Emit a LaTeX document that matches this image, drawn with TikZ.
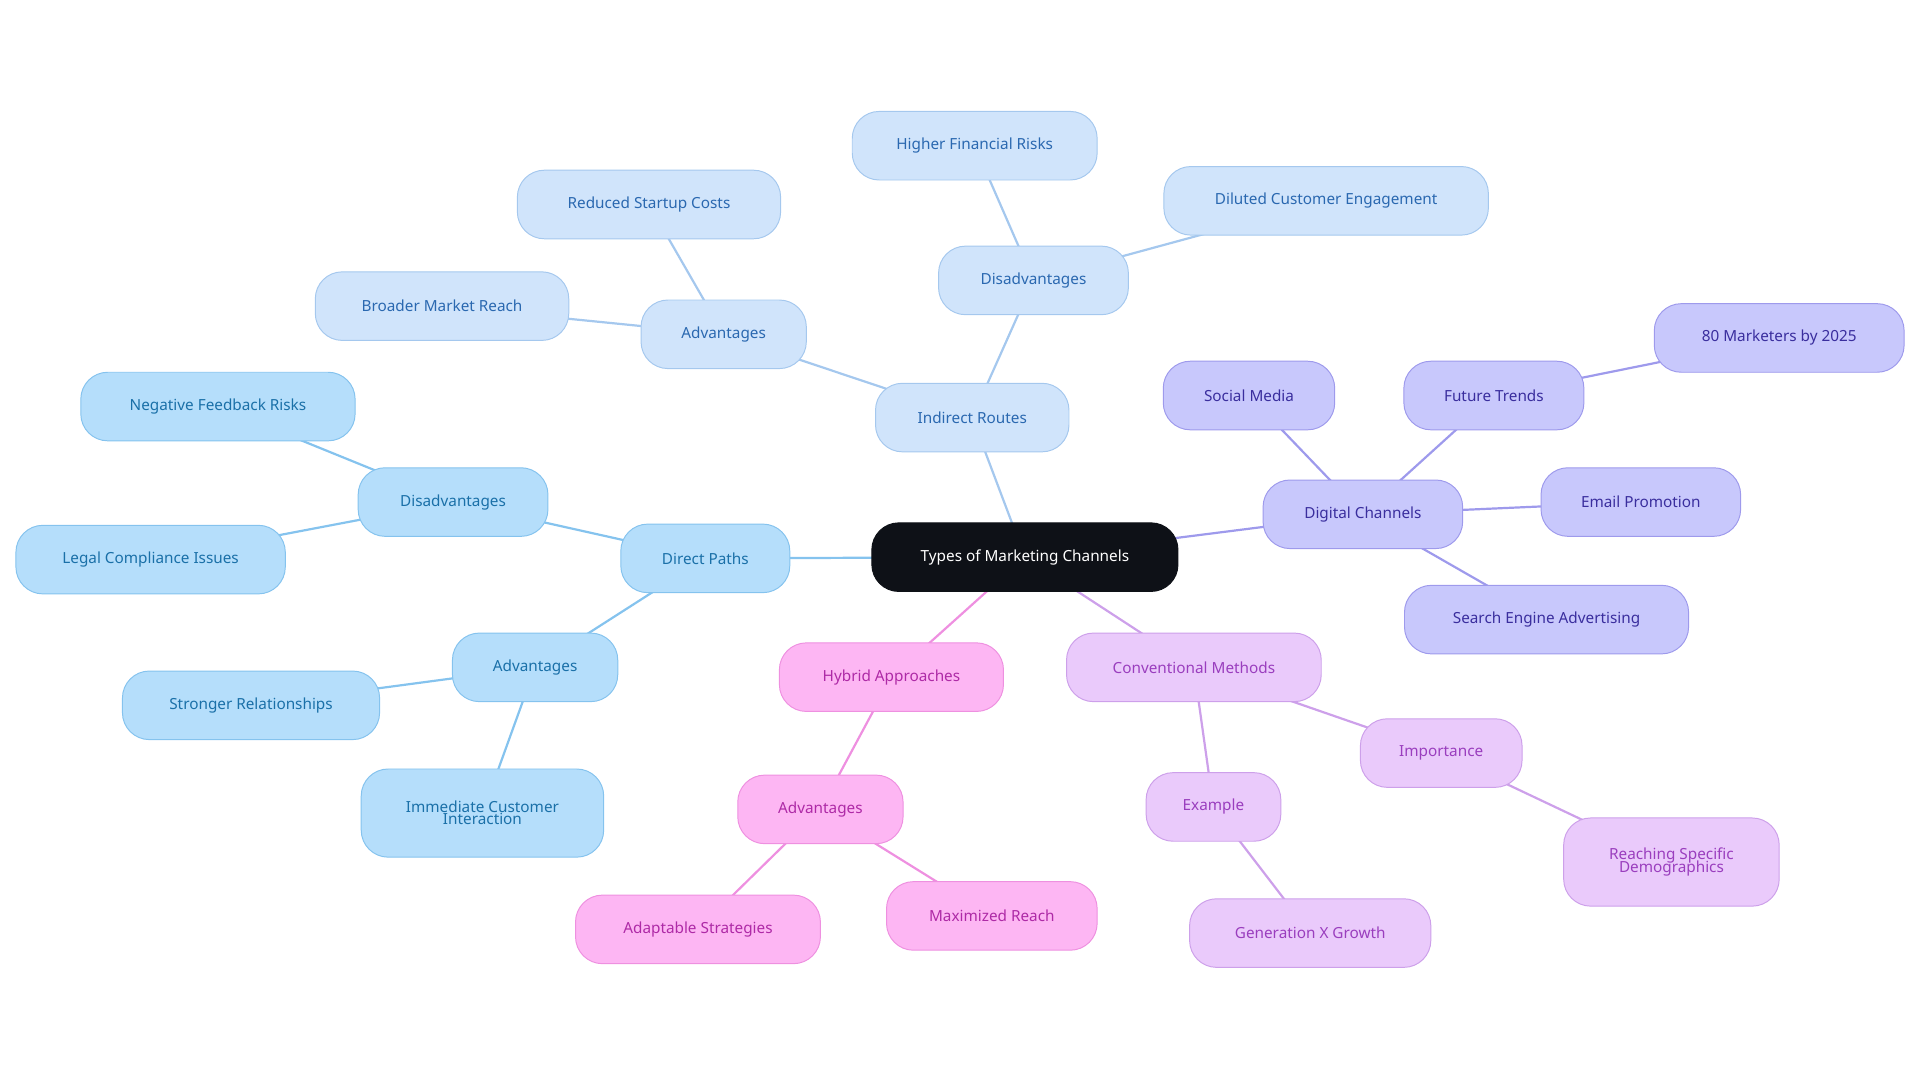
\documentclass[tikz,border=0pt]{standalone}
\usepackage{fontspec}
\setmainfont{Noto Sans}
\usetikzlibrary{backgrounds}
\definecolor{dpF}{HTML}{B5DEFB}\definecolor{dpD}{HTML}{85C3EE}\definecolor{dpT}{HTML}{1A70A8}
\definecolor{irF}{HTML}{D0E4FB}\definecolor{irD}{HTML}{A5C8EE}\definecolor{irT}{HTML}{2A68B0}
\definecolor{dcF}{HTML}{C8C8FC}\definecolor{dcD}{HTML}{9E9AEC}\definecolor{dcT}{HTML}{3A2E9E}
\definecolor{cmF}{HTML}{EACAFB}\definecolor{cmD}{HTML}{CDA0EA}\definecolor{cmT}{HTML}{9A3EBE}
\definecolor{haF}{HTML}{FDB6F3}\definecolor{haD}{HTML}{EE90E0}\definecolor{haT}{HTML}{AE2AA6}
\definecolor{rootF}{HTML}{0E1117}
\tikzset{
 x=1pt,y=-1pt,
 box/.style={rectangle,rounded corners=22pt,minimum height=56pt,line width=0.8pt,align=center,font=\fontsize{12.5}{13}\selectfont,inner xsep=4pt},
 dpbox/.style={box,fill=dpF,draw=dpD,text=dpT},
 irbox/.style={box,fill=irF,draw=irD,text=irT},
 dcbox/.style={box,fill=dcF,draw=dcD,text=dcT},
 cmbox/.style={box,fill=cmF,draw=cmD,text=cmT},
 habox/.style={box,fill=haF,draw=haD,text=haT},
 edge/.style={line width=1.8pt},
}
\begin{document}
\begin{tikzpicture}
\useasboundingbox (0,0) rectangle (1568,884);
\node[box,fill=rootF,draw=rootF,text=white,minimum width=250pt] (root) at (837,455) {Types of Marketing Channels};
\node[dpbox,minimum width=138pt] (dp) at (576,456) {Direct Paths};
\node[dpbox,minimum width=155pt] (dpd) at (370,410) {Disadvantages};
\node[dpbox,minimum width=224pt] (nfr) at (178,332) {Negative Feedback Risks};
\node[dpbox,minimum width=220pt] (lci) at (123,457) {Legal Compliance Issues};
\node[dpbox,minimum width=135pt] (dpa) at (437,545) {Advantages};
\node[dpbox,minimum width=210pt] (sr) at (205,576) {Stronger Relationships};
\node[dpbox,minimum width=198pt,minimum height=72pt] (ici) at (394,664) {Immediate Customer\\[-3pt]Interaction};
\node[irbox,minimum width=158pt] (ir) at (794,341) {Indirect Routes};
\node[irbox,minimum width=135pt] (ira) at (591,273) {Advantages};
\node[irbox,minimum width=215pt] (rsc) at (530,167) {Reduced Startup Costs};
\node[irbox,minimum width=207pt] (bmr) at (361,250) {Broader Market Reach};
\node[irbox,minimum width=155pt] (ird) at (844,229) {Disadvantages};
\node[irbox,minimum width=200pt] (hfr) at (796,119) {Higher Financial Risks};
\node[irbox,minimum width=265pt] (dce) at (1083,164) {Diluted Customer Engagement};
\node[dcbox,minimum width=163pt] (dc) at (1113,420) {Digital Channels};
\node[dcbox,minimum width=140pt] (sm) at (1020,323) {Social Media};
\node[dcbox,minimum width=147pt] (ft) at (1220,323) {Future Trends};
\node[dcbox,minimum width=204pt] (m80) at (1453,276) {80 Marketers by 2025};
\node[dcbox,minimum width=163pt] (ep) at (1340,410) {Email Promotion};
\node[dcbox,minimum width=232pt] (sea) at (1263,506) {Search Engine Advertising};
\node[cmbox,minimum width=208pt] (cmn) at (975,545) {Conventional Methods};
\node[cmbox,minimum width=132pt] (imp) at (1177,615) {Importance};
\node[cmbox,minimum width=176pt,minimum height=72pt] (rsd) at (1365,704) {Reaching Specific\\[-3pt]Demographics};
\node[cmbox,minimum width=110pt] (ex) at (991,659) {Example};
\node[cmbox,minimum width=197pt] (gxg) at (1070,762) {Generation X Growth};
\node[habox,minimum width=183pt] (ha) at (728,553) {Hybrid Approaches};
\node[habox,minimum width=135pt] (haa) at (670,661) {Advantages};
\node[habox,minimum width=200pt] (as) at (570,759) {Adaptable Strategies};
\node[habox,minimum width=172pt] (mr) at (810,748) {Maximized Reach};
\begin{scope}[on background layer]
\draw[edge,dpD] (root.center)--(dp.center) (dp.center)--(dpd.center) (dpd.center)--(nfr.center) (dpd.center)--(lci.center) (dp.center)--(dpa.center) (dpa.center)--(sr.center) (dpa.center)--(ici.center);
\draw[edge,irD] (root.center)--(ir.center) (ir.center)--(ira.center) (ira.center)--(rsc.center) (ira.center)--(bmr.center) (ir.center)--(ird.center) (ird.center)--(hfr.center) (ird.center)--(dce.center);
\draw[edge,dcD] (root.center)--(dc.center) (dc.center)--(sm.center) (dc.center)--(ft.center) (ft.center)--(m80.center) (dc.center)--(ep.center) (dc.center)--(sea.center);
\draw[edge,cmD] (root.center)--(cmn.center) (cmn.center)--(imp.center) (imp.center)--(rsd.center) (cmn.center)--(ex.center) (ex.center)--(gxg.center);
\draw[edge,haD] (root.center)--(ha.center) (ha.center)--(haa.center) (haa.center)--(as.center) (haa.center)--(mr.center);
\end{scope}
\end{tikzpicture}
\end{document}
